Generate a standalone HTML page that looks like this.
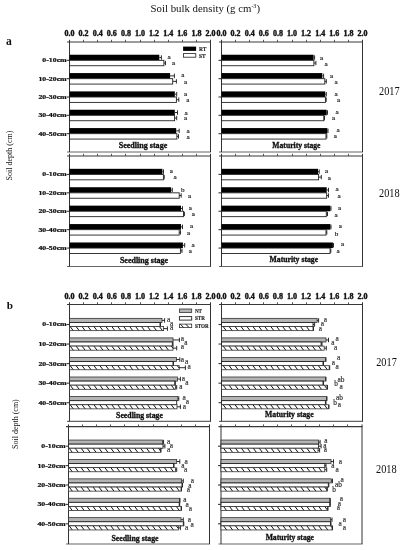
<!DOCTYPE html>
<html><head><meta charset="utf-8"><style>
html,body{margin:0;padding:0;background:#fff;}
svg{display:block;filter:blur(0.3px);}
text{font-family:"Liberation Serif", "Times New Roman", serif;fill:#111;}
.tk{font-size:7.6px;font-weight:bold;text-anchor:middle;stroke:#111;stroke-width:0.35px;}
.cat{font-size:7.1px;font-weight:bold;text-anchor:end;stroke:#111;stroke-width:0.25px;}
.st{font-size:8.4px;font-weight:bold;text-anchor:middle;stroke:#111;stroke-width:0.3px;}
.lt{font-size:7.2px;text-anchor:middle;fill:#222;stroke:#333;stroke-width:0.15px;}
.lta{font-size:6.5px;text-anchor:middle;fill:#222;stroke:#333;stroke-width:0.2px;}
.lg{font-size:5.9px;font-weight:bold;fill:#222;stroke:#222;stroke-width:0.15px;}
.yr{font-size:12px;}
.hx{stroke:#383838;stroke-width:1.1;}
.hx2{stroke:#666;stroke-width:1.1;}
.vx{stroke:#333;stroke-width:1;}
.tx{stroke:#444;stroke-width:0.9;}
.eb{stroke:#222;stroke-width:0.95;}
.bk{fill:#000;}
.wh{fill:#fff;stroke:#222;stroke-width:0.9;}
.gr{fill:#b4b4b4;stroke:#333;stroke-width:0.8;}
.hl{stroke:#111;stroke-width:1;fill:none;}
.ol{fill:none;stroke:#333;stroke-width:0.8;}
</style></head><body>
<svg width="403" height="550" viewBox="0 0 403 550">
<rect width="403" height="550" fill="#fff"/>
<text x="205.3" y="11.9" style="font-size:10.8px;text-anchor:middle">Soil bulk density (g cm<tspan dy="-3.5" style="font-size:6px">-3</tspan><tspan dy="3.5">)</tspan></text>
<text x="6" y="44.8" style="font-size:11.6px;font-weight:bold">a</text>
<text x="6.8" y="309.2" style="font-size:11.2px;font-weight:bold">b</text>
<text transform="translate(12.2,155.5) rotate(-90)" style="font-size:8px;text-anchor:middle">Soil depth (cm)</text>
<text transform="translate(17.6,424.1) rotate(-90)" style="font-size:8px;text-anchor:middle">Soil depth (cm)</text>
<text transform="translate(379,94.7) scale(0.86,1)" class="yr">2017</text>
<text transform="translate(379,197.1) scale(0.86,1)" class="yr">2018</text>
<text transform="translate(376.2,365.6) scale(0.86,1)" class="yr">2017</text>
<text transform="translate(376,472.9) scale(0.86,1)" class="yr">2018</text>

<rect x="183.1" y="46.6" width="13" height="4.3" fill="#000"/>
<text transform="translate(199.1,50.8) scale(0.92,1)" class="lg">RT</text>
<rect x="183.5" y="53.6" width="12.3" height="3.6" fill="#fff" stroke="#222" stroke-width="0.8"/>
<text transform="translate(199.1,57.6) scale(0.92,1)" class="lg">ST</text>


<rect x="179.4" y="309" width="12.3" height="3.5" class="gr"/>
<text transform="translate(194.9,312.8) scale(0.87,1)" class="lg">NT</text>
<rect x="179.4" y="316.6" width="12.3" height="3.5" class="wh"/>
<text transform="translate(194.9,320.4) scale(0.87,1)" class="lg">STR</text>
<rect x="179.4" y="324.1" width="12.3" height="3.5" fill="#fff"/>
<path d="M180.25 324.1L183.75 327.6M185.65 324.1L189.15 327.6M191.05 324.1L191.7 324.75" class="hl"/>
<rect x="179.4" y="324.1" width="12.3" height="3.5" class="ol"/>
<text transform="translate(194.9,327.9) scale(0.87,1)" class="lg">STOR</text>

<line x1="67" y1="42" x2="211" y2="42" class="hx"/>
<line x1="67" y1="152" x2="211" y2="152" class="hx2"/>
<line x1="69.5" y1="39.8" x2="69.5" y2="152" class="vx"/>
<line x1="210.5" y1="39.8" x2="210.5" y2="152" class="vx"/>
<line x1="83.5" y1="42" x2="83.5" y2="39.8" class="tx"/>
<line x1="97.5" y1="42" x2="97.5" y2="39.8" class="tx"/>
<line x1="111.5" y1="42" x2="111.5" y2="39.8" class="tx"/>
<line x1="125.5" y1="42" x2="125.5" y2="39.8" class="tx"/>
<line x1="140.5" y1="42" x2="140.5" y2="39.8" class="tx"/>
<line x1="154.5" y1="42" x2="154.5" y2="39.8" class="tx"/>
<line x1="168.5" y1="42" x2="168.5" y2="39.8" class="tx"/>
<line x1="182.5" y1="42" x2="182.5" y2="39.8" class="tx"/>
<line x1="196.5" y1="42" x2="196.5" y2="39.8" class="tx"/>
<line x1="66.5" y1="60.33" x2="69.5" y2="60.33" class="hx"/>
<text transform="translate(66.6,62.23) scale(1.1,1)" class="cat">0-10cm</text>
<rect x="69.5" y="54.73" width="89.8" height="5.6" class="bk"/>
<line x1="159.3" y1="57.53" x2="161.4" y2="57.53" class="eb"/>
<line x1="161.4" y1="55.29" x2="161.4" y2="59.77" class="eb"/>
<text transform="translate(169.2,59) scale(1.1,1)" class="lta">a</text>
<rect x="69.5" y="60.33" width="94.4" height="5.4" class="wh"/>
<line x1="163.9" y1="63.03" x2="165.5" y2="63.03" class="eb"/>
<line x1="165.5" y1="60.87" x2="165.5" y2="65.19" class="eb"/>
<text transform="translate(173.6,64.9) scale(1.1,1)" class="lta">a</text>
<line x1="66.5" y1="78.67" x2="69.5" y2="78.67" class="hx"/>
<text transform="translate(66.6,80.57) scale(1.1,1)" class="cat">10-20cm</text>
<rect x="69.5" y="73.07" width="100.6" height="5.6" class="bk"/>
<line x1="170.1" y1="75.87" x2="174.4" y2="75.87" class="eb"/>
<line x1="174.4" y1="73.63" x2="174.4" y2="78.11" class="eb"/>
<text transform="translate(182.9,77.4) scale(1.1,1)" class="lta">a</text>
<rect x="69.5" y="78.67" width="103.2" height="5.4" class="wh"/>
<line x1="172.7" y1="81.37" x2="176.4" y2="81.37" class="eb"/>
<line x1="176.4" y1="79.21" x2="176.4" y2="83.53" class="eb"/>
<text transform="translate(185.6,83.5) scale(1.1,1)" class="lta">a</text>
<line x1="66.5" y1="97" x2="69.5" y2="97" class="hx"/>
<text transform="translate(66.6,98.9) scale(1.1,1)" class="cat">20-30cm</text>
<rect x="69.5" y="91.4" width="105.3" height="5.6" class="bk"/>
<line x1="174.8" y1="94.2" x2="176.7" y2="94.2" class="eb"/>
<line x1="176.7" y1="91.96" x2="176.7" y2="96.44" class="eb"/>
<text transform="translate(185.6,95.9) scale(1.1,1)" class="lta">a</text>
<rect x="69.5" y="97" width="106.9" height="5.4" class="wh"/>
<line x1="176.4" y1="99.7" x2="178.8" y2="99.7" class="eb"/>
<line x1="178.8" y1="97.54" x2="178.8" y2="101.86" class="eb"/>
<text transform="translate(187.8,102.1) scale(1.1,1)" class="lta">a</text>
<line x1="66.5" y1="115.33" x2="69.5" y2="115.33" class="hx"/>
<text transform="translate(66.6,117.23) scale(1.1,1)" class="cat">30-40cm</text>
<rect x="69.5" y="109.73" width="105.3" height="5.6" class="bk"/>
<line x1="174.8" y1="112.53" x2="177.5" y2="112.53" class="eb"/>
<line x1="177.5" y1="110.29" x2="177.5" y2="114.77" class="eb"/>
<text transform="translate(186.2,114.9) scale(1.1,1)" class="lta">a</text>
<rect x="69.5" y="115.33" width="105.1" height="5.4" class="wh"/>
<line x1="174.6" y1="118.03" x2="176.7" y2="118.03" class="eb"/>
<line x1="176.7" y1="115.87" x2="176.7" y2="120.19" class="eb"/>
<text transform="translate(185.6,120.1) scale(1.1,1)" class="lta">a</text>
<line x1="66.5" y1="133.67" x2="69.5" y2="133.67" class="hx"/>
<text transform="translate(66.6,135.57) scale(1.1,1)" class="cat">40-50cm</text>
<rect x="69.5" y="128.07" width="106.7" height="5.6" class="bk"/>
<line x1="176.2" y1="130.87" x2="179.2" y2="130.87" class="eb"/>
<line x1="179.2" y1="128.63" x2="179.2" y2="133.11" class="eb"/>
<text transform="translate(188.2,133.1) scale(1.1,1)" class="lta">a</text>
<rect x="69.5" y="133.67" width="107.4" height="5.4" class="wh"/>
<line x1="176.9" y1="136.37" x2="178.5" y2="136.37" class="eb"/>
<line x1="178.5" y1="134.21" x2="178.5" y2="138.53" class="eb"/>
<text transform="translate(188,139) scale(1.1,1)" class="lta">a</text>
<text transform="translate(143,147.9) scale(1.075,1)" class="st" style="font-size:7.5px">Seedling stage</text>
<line x1="219" y1="42" x2="363" y2="42" class="hx"/>
<line x1="219" y1="152" x2="363" y2="152" class="hx2"/>
<line x1="221.5" y1="39.8" x2="221.5" y2="152" class="vx"/>
<line x1="362.5" y1="39.8" x2="362.5" y2="152" class="vx"/>
<line x1="235.5" y1="42" x2="235.5" y2="39.8" class="tx"/>
<line x1="249.5" y1="42" x2="249.5" y2="39.8" class="tx"/>
<line x1="263.5" y1="42" x2="263.5" y2="39.8" class="tx"/>
<line x1="277.5" y1="42" x2="277.5" y2="39.8" class="tx"/>
<line x1="292.5" y1="42" x2="292.5" y2="39.8" class="tx"/>
<line x1="306.5" y1="42" x2="306.5" y2="39.8" class="tx"/>
<line x1="320.5" y1="42" x2="320.5" y2="39.8" class="tx"/>
<line x1="334.5" y1="42" x2="334.5" y2="39.8" class="tx"/>
<line x1="348.5" y1="42" x2="348.5" y2="39.8" class="tx"/>
<line x1="218.5" y1="60.33" x2="221.5" y2="60.33" class="hx"/>
<rect x="221.5" y="54.73" width="92.1" height="5.6" class="bk"/>
<line x1="313.6" y1="57.53" x2="314.6" y2="57.53" class="eb"/>
<line x1="314.6" y1="55.29" x2="314.6" y2="59.77" class="eb"/>
<text transform="translate(321.7,59.6) scale(1.1,1)" class="lta">a</text>
<rect x="221.5" y="60.33" width="92.4" height="5.4" class="wh"/>
<line x1="313.9" y1="63.03" x2="315.9" y2="63.03" class="eb"/>
<line x1="315.9" y1="60.87" x2="315.9" y2="65.19" class="eb"/>
<text transform="translate(326,65.8) scale(1.1,1)" class="lta">a</text>
<line x1="218.5" y1="78.67" x2="221.5" y2="78.67" class="hx"/>
<rect x="221.5" y="73.07" width="100.8" height="5.6" class="bk"/>
<line x1="322.3" y1="75.87" x2="323.6" y2="75.87" class="eb"/>
<line x1="323.6" y1="73.63" x2="323.6" y2="78.11" class="eb"/>
<text transform="translate(331.6,77.6) scale(1.1,1)" class="lta">a</text>
<rect x="221.5" y="78.67" width="103.3" height="5.4" class="wh"/>
<line x1="324.8" y1="81.37" x2="326.3" y2="81.37" class="eb"/>
<line x1="326.3" y1="79.21" x2="326.3" y2="83.53" class="eb"/>
<text transform="translate(336.2,83.8) scale(1.1,1)" class="lta">a</text>
<line x1="218.5" y1="97" x2="221.5" y2="97" class="hx"/>
<rect x="221.5" y="91.4" width="103.7" height="5.6" class="bk"/>
<line x1="325.2" y1="94.2" x2="326.3" y2="94.2" class="eb"/>
<line x1="326.3" y1="91.96" x2="326.3" y2="96.44" class="eb"/>
<text transform="translate(336,95.9) scale(1.1,1)" class="lta">a</text>
<rect x="221.5" y="97" width="103.9" height="5.4" class="wh"/>
<line x1="325.4" y1="99.7" x2="326.2" y2="99.7" class="eb"/>
<line x1="326.2" y1="97.54" x2="326.2" y2="101.86" class="eb"/>
<text transform="translate(338.5,101.5) scale(1.1,1)" class="lta">a</text>
<line x1="218.5" y1="115.33" x2="221.5" y2="115.33" class="hx"/>
<rect x="221.5" y="109.73" width="105.2" height="5.6" class="bk"/>
<line x1="326.7" y1="112.53" x2="327.5" y2="112.53" class="eb"/>
<line x1="327.5" y1="110.29" x2="327.5" y2="114.77" class="eb"/>
<text transform="translate(337,114.1) scale(1.1,1)" class="lta">a</text>
<rect x="221.5" y="115.33" width="102.3" height="5.4" class="wh"/>
<line x1="323.8" y1="118.03" x2="324.5" y2="118.03" class="eb"/>
<line x1="324.5" y1="115.87" x2="324.5" y2="120.19" class="eb"/>
<text transform="translate(333.5,120.1) scale(1.1,1)" class="lta">a</text>
<line x1="218.5" y1="133.67" x2="221.5" y2="133.67" class="hx"/>
<rect x="221.5" y="128.07" width="105.8" height="5.6" class="bk"/>
<line x1="327.3" y1="130.87" x2="328" y2="130.87" class="eb"/>
<line x1="328" y1="128.63" x2="328" y2="133.11" class="eb"/>
<text transform="translate(338.2,132.1) scale(1.1,1)" class="lta">a</text>
<rect x="221.5" y="133.67" width="104.5" height="5.4" class="wh"/>
<line x1="326" y1="136.37" x2="326.8" y2="136.37" class="eb"/>
<line x1="326.8" y1="134.21" x2="326.8" y2="138.53" class="eb"/>
<text transform="translate(335.4,138.3) scale(1.1,1)" class="lta">a</text>
<text transform="translate(296.4,148.4) scale(1.020,1)" class="st" style="font-size:7.5px">Maturity stage</text>
<line x1="67" y1="156" x2="211" y2="156" class="hx"/>
<line x1="67" y1="266.5" x2="211" y2="266.5" class="hx2"/>
<line x1="69.5" y1="153.8" x2="69.5" y2="266.5" class="vx"/>
<line x1="210.5" y1="153.8" x2="210.5" y2="266.5" class="vx"/>
<line x1="83.5" y1="156" x2="83.5" y2="153.8" class="tx"/>
<line x1="97.5" y1="156" x2="97.5" y2="153.8" class="tx"/>
<line x1="111.5" y1="156" x2="111.5" y2="153.8" class="tx"/>
<line x1="125.5" y1="156" x2="125.5" y2="153.8" class="tx"/>
<line x1="140.5" y1="156" x2="140.5" y2="153.8" class="tx"/>
<line x1="154.5" y1="156" x2="154.5" y2="153.8" class="tx"/>
<line x1="168.5" y1="156" x2="168.5" y2="153.8" class="tx"/>
<line x1="182.5" y1="156" x2="182.5" y2="153.8" class="tx"/>
<line x1="196.5" y1="156" x2="196.5" y2="153.8" class="tx"/>
<line x1="66.5" y1="174.42" x2="69.5" y2="174.42" class="hx"/>
<text transform="translate(66.6,176.32) scale(1.1,1)" class="cat">0-10cm</text>
<rect x="69.5" y="168.82" width="92.9" height="5.6" class="bk"/>
<line x1="162.4" y1="171.62" x2="163.5" y2="171.62" class="eb"/>
<line x1="163.5" y1="169.38" x2="163.5" y2="173.86" class="eb"/>
<text transform="translate(171.3,173) scale(1.1,1)" class="lta">a</text>
<rect x="69.5" y="174.42" width="93.9" height="5.4" class="wh"/>
<line x1="163.4" y1="177.12" x2="164.2" y2="177.12" class="eb"/>
<line x1="164.2" y1="174.96" x2="164.2" y2="179.28" class="eb"/>
<text transform="translate(175.2,179) scale(1.1,1)" class="lta">a</text>
<line x1="66.5" y1="192.83" x2="69.5" y2="192.83" class="hx"/>
<text transform="translate(66.6,194.73) scale(1.1,1)" class="cat">10-20cm</text>
<rect x="69.5" y="187.23" width="101.6" height="5.6" class="bk"/>
<line x1="171.1" y1="190.03" x2="172.3" y2="190.03" class="eb"/>
<line x1="172.3" y1="187.79" x2="172.3" y2="192.27" class="eb"/>
<text transform="translate(182.9,191.5) scale(1.1,1)" class="lta">b</text>
<rect x="69.5" y="192.83" width="109.7" height="5.4" class="wh"/>
<line x1="179.2" y1="195.53" x2="181.2" y2="195.53" class="eb"/>
<line x1="181.2" y1="193.37" x2="181.2" y2="197.69" class="eb"/>
<text transform="translate(189.7,197.6) scale(1.1,1)" class="lta">a</text>
<line x1="66.5" y1="211.25" x2="69.5" y2="211.25" class="hx"/>
<text transform="translate(66.6,213.15) scale(1.1,1)" class="cat">20-30cm</text>
<rect x="69.5" y="205.65" width="111.5" height="5.6" class="bk"/>
<line x1="181" y1="208.45" x2="182.5" y2="208.45" class="eb"/>
<line x1="182.5" y1="206.21" x2="182.5" y2="210.69" class="eb"/>
<text transform="translate(190.3,210.3) scale(1.1,1)" class="lta">a</text>
<rect x="69.5" y="211.25" width="114" height="5.4" class="wh"/>
<line x1="183.5" y1="213.95" x2="184.4" y2="213.95" class="eb"/>
<line x1="184.4" y1="211.79" x2="184.4" y2="216.11" class="eb"/>
<text transform="translate(193.4,216.2) scale(1.1,1)" class="lta">a</text>
<line x1="66.5" y1="229.67" x2="69.5" y2="229.67" class="hx"/>
<text transform="translate(66.6,231.57) scale(1.1,1)" class="cat">30-40cm</text>
<rect x="69.5" y="224.07" width="111.5" height="5.6" class="bk"/>
<line x1="181" y1="226.87" x2="182.5" y2="226.87" class="eb"/>
<line x1="182.5" y1="224.63" x2="182.5" y2="229.11" class="eb"/>
<text transform="translate(191.6,228.3) scale(1.1,1)" class="lta">a</text>
<rect x="69.5" y="229.67" width="109.7" height="5.4" class="wh"/>
<line x1="179.2" y1="232.37" x2="180.5" y2="232.37" class="eb"/>
<line x1="180.5" y1="230.21" x2="180.5" y2="234.53" class="eb"/>
<text transform="translate(188.5,235.1) scale(1.1,1)" class="lta">a</text>
<line x1="66.5" y1="248.08" x2="69.5" y2="248.08" class="hx"/>
<text transform="translate(66.6,249.98) scale(1.1,1)" class="cat">40-50cm</text>
<rect x="69.5" y="242.48" width="113.4" height="5.6" class="bk"/>
<line x1="182.9" y1="245.28" x2="184.7" y2="245.28" class="eb"/>
<line x1="184.7" y1="243.04" x2="184.7" y2="247.52" class="eb"/>
<text transform="translate(193.2,247.1) scale(1.1,1)" class="lta">a</text>
<rect x="69.5" y="248.08" width="110.9" height="5.4" class="wh"/>
<line x1="180.4" y1="250.78" x2="182" y2="250.78" class="eb"/>
<line x1="182" y1="248.62" x2="182" y2="252.94" class="eb"/>
<text transform="translate(190.3,252.7) scale(1.1,1)" class="lta">a</text>
<text transform="translate(144,262.8) scale(1.068,1)" class="st" style="font-size:7.5px">Seedling stage</text>
<line x1="219" y1="156" x2="363" y2="156" class="hx"/>
<line x1="219" y1="266.5" x2="363" y2="266.5" class="hx2"/>
<line x1="221.5" y1="153.8" x2="221.5" y2="266.5" class="vx"/>
<line x1="362.5" y1="153.8" x2="362.5" y2="266.5" class="vx"/>
<line x1="235.5" y1="156" x2="235.5" y2="153.8" class="tx"/>
<line x1="249.5" y1="156" x2="249.5" y2="153.8" class="tx"/>
<line x1="263.5" y1="156" x2="263.5" y2="153.8" class="tx"/>
<line x1="277.5" y1="156" x2="277.5" y2="153.8" class="tx"/>
<line x1="292.5" y1="156" x2="292.5" y2="153.8" class="tx"/>
<line x1="306.5" y1="156" x2="306.5" y2="153.8" class="tx"/>
<line x1="320.5" y1="156" x2="320.5" y2="153.8" class="tx"/>
<line x1="334.5" y1="156" x2="334.5" y2="153.8" class="tx"/>
<line x1="348.5" y1="156" x2="348.5" y2="153.8" class="tx"/>
<line x1="218.5" y1="174.42" x2="221.5" y2="174.42" class="hx"/>
<rect x="221.5" y="168.82" width="96.5" height="5.6" class="bk"/>
<line x1="318" y1="171.62" x2="319.2" y2="171.62" class="eb"/>
<line x1="319.2" y1="169.38" x2="319.2" y2="173.86" class="eb"/>
<text transform="translate(326.7,173.4) scale(1.1,1)" class="lta">a</text>
<rect x="221.5" y="174.42" width="97.1" height="5.4" class="wh"/>
<line x1="318.6" y1="177.12" x2="321.3" y2="177.12" class="eb"/>
<line x1="321.3" y1="174.96" x2="321.3" y2="179.28" class="eb"/>
<text transform="translate(329.4,179.6) scale(1.1,1)" class="lta">a</text>
<line x1="218.5" y1="192.83" x2="221.5" y2="192.83" class="hx"/>
<rect x="221.5" y="187.23" width="105.2" height="5.6" class="bk"/>
<line x1="326.7" y1="190.03" x2="328.5" y2="190.03" class="eb"/>
<line x1="328.5" y1="187.79" x2="328.5" y2="192.27" class="eb"/>
<text transform="translate(337,191.4) scale(1.1,1)" class="lta">a</text>
<rect x="221.5" y="192.83" width="105.2" height="5.4" class="wh"/>
<line x1="326.7" y1="195.53" x2="328.5" y2="195.53" class="eb"/>
<line x1="328.5" y1="193.37" x2="328.5" y2="197.69" class="eb"/>
<text transform="translate(339.1,197.6) scale(1.1,1)" class="lta">a</text>
<line x1="218.5" y1="211.25" x2="221.5" y2="211.25" class="hx"/>
<rect x="221.5" y="205.65" width="108.9" height="5.6" class="bk"/>
<line x1="330.4" y1="208.45" x2="331" y2="208.45" class="eb"/>
<line x1="331" y1="206.21" x2="331" y2="210.69" class="eb"/>
<text transform="translate(339.5,209.6) scale(1.1,1)" class="lta">a</text>
<rect x="221.5" y="211.25" width="104.8" height="5.4" class="wh"/>
<line x1="326.3" y1="213.95" x2="327.5" y2="213.95" class="eb"/>
<line x1="327.5" y1="211.79" x2="327.5" y2="216.11" class="eb"/>
<text transform="translate(336,216.5) scale(1.1,1)" class="lta">a</text>
<line x1="218.5" y1="229.67" x2="221.5" y2="229.67" class="hx"/>
<rect x="221.5" y="224.07" width="108.9" height="5.6" class="bk"/>
<line x1="330.4" y1="226.87" x2="331" y2="226.87" class="eb"/>
<line x1="331" y1="224.63" x2="331" y2="229.11" class="eb"/>
<text transform="translate(340.3,227.9) scale(1.1,1)" class="lta">a</text>
<rect x="221.5" y="229.67" width="104.5" height="5.4" class="wh"/>
<line x1="326" y1="232.37" x2="326.8" y2="232.37" class="eb"/>
<line x1="326.8" y1="230.21" x2="326.8" y2="234.53" class="eb"/>
<text transform="translate(336.6,235.5) scale(1.1,1)" class="lta">b</text>
<line x1="218.5" y1="248.08" x2="221.5" y2="248.08" class="hx"/>
<rect x="221.5" y="242.48" width="111.4" height="5.6" class="bk"/>
<line x1="332.9" y1="245.28" x2="333.5" y2="245.28" class="eb"/>
<line x1="333.5" y1="243.04" x2="333.5" y2="247.52" class="eb"/>
<text transform="translate(342.6,245.9) scale(1.1,1)" class="lta">a</text>
<rect x="221.5" y="248.08" width="108.6" height="5.4" class="wh"/>
<line x1="330.1" y1="250.78" x2="330.8" y2="250.78" class="eb"/>
<line x1="330.8" y1="248.62" x2="330.8" y2="252.94" class="eb"/>
<text transform="translate(338.2,252.5) scale(1.1,1)" class="lta">a</text>
<text transform="translate(293.8,262.3) scale(1.029,1)" class="st" style="font-size:7.5px">Maturity stage</text>
<line x1="67" y1="304.5" x2="211" y2="304.5" class="hx"/>
<line x1="67" y1="421.4" x2="211" y2="421.4" class="hx2"/>
<line x1="69.5" y1="302.3" x2="69.5" y2="421.4" class="vx"/>
<line x1="210.5" y1="302.3" x2="210.5" y2="421.4" class="vx"/>
<line x1="83.5" y1="304.5" x2="83.5" y2="302.3" class="tx"/>
<line x1="97.5" y1="304.5" x2="97.5" y2="302.3" class="tx"/>
<line x1="111.5" y1="304.5" x2="111.5" y2="302.3" class="tx"/>
<line x1="125.5" y1="304.5" x2="125.5" y2="302.3" class="tx"/>
<line x1="140.5" y1="304.5" x2="140.5" y2="302.3" class="tx"/>
<line x1="154.5" y1="304.5" x2="154.5" y2="302.3" class="tx"/>
<line x1="168.5" y1="304.5" x2="168.5" y2="302.3" class="tx"/>
<line x1="182.5" y1="304.5" x2="182.5" y2="302.3" class="tx"/>
<line x1="196.5" y1="304.5" x2="196.5" y2="302.3" class="tx"/>
<line x1="66.5" y1="324.5" x2="69.5" y2="324.5" class="hx"/>
<text transform="translate(66.6,326.4) scale(1.1,1)" class="cat">0-10cm</text>
<rect x="69.5" y="318.35" width="92.5" height="4.1" class="gr"/>
<line x1="162" y1="320.4" x2="164.6" y2="320.4" class="eb"/>
<line x1="164.6" y1="318.14" x2="164.6" y2="322.65" class="eb"/>
<text transform="translate(168.6,321.8) scale(1.02,1)" class="lt">a</text>
<rect x="69.5" y="322.45" width="90.5" height="4.1" class="wh"/>
<line x1="160" y1="324.5" x2="160.5" y2="324.5" class="eb"/>
<line x1="160.5" y1="322.25" x2="160.5" y2="326.75" class="eb"/>
<text transform="translate(171.7,325.5) scale(1.02,1)" class="lt">a</text>
<rect x="69.5" y="326.55" width="94.1" height="4.1" fill="#fff"/>
<path d="M70.16 326.55L73.24 330.65M76.11 326.55L79.19 330.65M82.06 326.55L85.14 330.65M88.01 326.55L91.09 330.65M93.96 326.55L97.04 330.65M99.91 326.55L102.99 330.65M105.86 326.55L108.94 330.65M111.81 326.55L114.89 330.65M117.76 326.55L120.84 330.65M123.71 326.55L126.79 330.65M129.66 326.55L132.74 330.65M135.61 326.55L138.69 330.65M141.56 326.55L144.64 330.65M147.51 326.55L150.59 330.65M153.46 326.55L156.54 330.65M159.41 326.55L162.49 330.65" class="hl"/>
<rect x="69.5" y="326.55" width="94.1" height="4.1" class="ol"/>
<line x1="163.6" y1="328.6" x2="167.4" y2="328.6" class="eb"/>
<line x1="167.4" y1="326.35" x2="167.4" y2="330.86" class="eb"/>
<text transform="translate(171.7,330.2) scale(1.02,1)" class="lt">a</text>
<line x1="66.5" y1="344.05" x2="69.5" y2="344.05" class="hx"/>
<text transform="translate(66.6,345.95) scale(1.1,1)" class="cat">10-20cm</text>
<rect x="69.5" y="337.9" width="103.5" height="4.1" class="gr"/>
<line x1="173" y1="339.95" x2="179.4" y2="339.95" class="eb"/>
<line x1="179.4" y1="337.7" x2="179.4" y2="342.21" class="eb"/>
<text transform="translate(182.5,341) scale(1.02,1)" class="lt">a</text>
<rect x="69.5" y="342" width="102.8" height="4.1" class="wh"/>
<line x1="172.3" y1="344.05" x2="173" y2="344.05" class="eb"/>
<line x1="173" y1="341.8" x2="173" y2="346.31" class="eb"/>
<text transform="translate(186,345.1) scale(1.02,1)" class="lt">a</text>
<rect x="69.5" y="346.1" width="103.5" height="4.1" fill="#fff"/>
<path d="M70.16 346.1L73.24 350.2M76.11 346.1L79.19 350.2M82.06 346.1L85.14 350.2M88.01 346.1L91.09 350.2M93.96 346.1L97.04 350.2M99.91 346.1L102.99 350.2M105.86 346.1L108.94 350.2M111.81 346.1L114.89 350.2M117.76 346.1L120.84 350.2M123.71 346.1L126.79 350.2M129.66 346.1L132.74 350.2M135.61 346.1L138.69 350.2M141.56 346.1L144.64 350.2M147.51 346.1L150.59 350.2M153.46 346.1L156.54 350.2M159.41 346.1L162.49 350.2M165.36 346.1L168.44 350.2M171.31 346.1L173 348.35" class="hl"/>
<rect x="69.5" y="346.1" width="103.5" height="4.1" class="ol"/>
<line x1="173" y1="348.15" x2="176.7" y2="348.15" class="eb"/>
<line x1="176.7" y1="345.89" x2="176.7" y2="350.4" class="eb"/>
<text transform="translate(182.5,349.4) scale(1.02,1)" class="lt">a</text>
<line x1="66.5" y1="363.6" x2="69.5" y2="363.6" class="hx"/>
<text transform="translate(66.6,365.5) scale(1.1,1)" class="cat">20-30cm</text>
<rect x="69.5" y="357.45" width="106.9" height="4.1" class="gr"/>
<line x1="176.4" y1="359.5" x2="179.8" y2="359.5" class="eb"/>
<line x1="179.8" y1="357.25" x2="179.8" y2="361.75" class="eb"/>
<text transform="translate(182.5,361.8) scale(1.02,1)" class="lt">a</text>
<rect x="69.5" y="361.55" width="103.5" height="4.1" class="wh"/>
<line x1="173" y1="363.6" x2="173.5" y2="363.6" class="eb"/>
<line x1="173.5" y1="361.35" x2="173.5" y2="365.86" class="eb"/>
<text transform="translate(186.6,363.6) scale(1.02,1)" class="lt">a</text>
<rect x="69.5" y="365.65" width="109.7" height="4.1" fill="#fff"/>
<path d="M70.16 365.65L73.24 369.75M76.11 365.65L79.19 369.75M82.06 365.65L85.14 369.75M88.01 365.65L91.09 369.75M93.96 365.65L97.04 369.75M99.91 365.65L102.99 369.75M105.86 365.65L108.94 369.75M111.81 365.65L114.89 369.75M117.76 365.65L120.84 369.75M123.71 365.65L126.79 369.75M129.66 365.65L132.74 369.75M135.61 365.65L138.69 369.75M141.56 365.65L144.64 369.75M147.51 365.65L150.59 369.75M153.46 365.65L156.54 369.75M159.41 365.65L162.49 369.75M165.36 365.65L168.44 369.75M171.31 365.65L174.39 369.75M177.26 365.65L179.2 368.23" class="hl"/>
<rect x="69.5" y="365.65" width="109.7" height="4.1" class="ol"/>
<line x1="179.2" y1="367.7" x2="185.4" y2="367.7" class="eb"/>
<line x1="185.4" y1="365.45" x2="185.4" y2="369.96" class="eb"/>
<text transform="translate(189.1,369) scale(1.02,1)" class="lt">a</text>
<line x1="66.5" y1="383.15" x2="69.5" y2="383.15" class="hx"/>
<text transform="translate(66.6,385.05) scale(1.1,1)" class="cat">30-40cm</text>
<rect x="69.5" y="377" width="108" height="4.1" class="gr"/>
<line x1="177.5" y1="379.05" x2="180.4" y2="379.05" class="eb"/>
<line x1="180.4" y1="376.79" x2="180.4" y2="381.3" class="eb"/>
<text transform="translate(183.3,381) scale(1.02,1)" class="lt">a</text>
<rect x="69.5" y="381.1" width="105.3" height="4.1" class="wh"/>
<line x1="174.8" y1="383.15" x2="175.3" y2="383.15" class="eb"/>
<line x1="175.3" y1="380.89" x2="175.3" y2="385.4" class="eb"/>
<text transform="translate(187,384.9) scale(1.02,1)" class="lt">a</text>
<rect x="69.5" y="385.2" width="105.9" height="4.1" fill="#fff"/>
<path d="M70.16 385.2L73.24 389.3M76.11 385.2L79.19 389.3M82.06 385.2L85.14 389.3M88.01 385.2L91.09 389.3M93.96 385.2L97.04 389.3M99.91 385.2L102.99 389.3M105.86 385.2L108.94 389.3M111.81 385.2L114.89 389.3M117.76 385.2L120.84 389.3M123.71 385.2L126.79 389.3M129.66 385.2L132.74 389.3M135.61 385.2L138.69 389.3M141.56 385.2L144.64 389.3M147.51 385.2L150.59 389.3M153.46 385.2L156.54 389.3M159.41 385.2L162.49 389.3M165.36 385.2L168.44 389.3M171.31 385.2L174.39 389.3" class="hl"/>
<rect x="69.5" y="385.2" width="105.9" height="4.1" class="ol"/>
<line x1="175.4" y1="387.25" x2="176.7" y2="387.25" class="eb"/>
<line x1="176.7" y1="385" x2="176.7" y2="389.5" class="eb"/>
<text transform="translate(180.8,388.6) scale(1.02,1)" class="lt">a</text>
<line x1="66.5" y1="402.7" x2="69.5" y2="402.7" class="hx"/>
<text transform="translate(66.6,404.6) scale(1.1,1)" class="cat">40-50cm</text>
<rect x="69.5" y="396.55" width="108.4" height="4.1" class="gr"/>
<line x1="177.9" y1="398.6" x2="178.8" y2="398.6" class="eb"/>
<line x1="178.8" y1="396.35" x2="178.8" y2="400.86" class="eb"/>
<text transform="translate(184.1,399.6) scale(1.02,1)" class="lt">a</text>
<rect x="69.5" y="400.65" width="107.2" height="4.1" class="wh"/>
<text transform="translate(187.5,404) scale(1.02,1)" class="lt">a</text>
<rect x="69.5" y="404.75" width="107.5" height="4.1" fill="#fff"/>
<path d="M70.16 404.75L73.24 408.85M76.11 404.75L79.19 408.85M82.06 404.75L85.14 408.85M88.01 404.75L91.09 408.85M93.96 404.75L97.04 408.85M99.91 404.75L102.99 408.85M105.86 404.75L108.94 408.85M111.81 404.75L114.89 408.85M117.76 404.75L120.84 408.85M123.71 404.75L126.79 408.85M129.66 404.75L132.74 408.85M135.61 404.75L138.69 408.85M141.56 404.75L144.64 408.85M147.51 404.75L150.59 408.85M153.46 404.75L156.54 408.85M159.41 404.75L162.49 408.85M165.36 404.75L168.44 408.85M171.31 404.75L174.39 408.85" class="hl"/>
<rect x="69.5" y="404.75" width="107.5" height="4.1" class="ol"/>
<line x1="177" y1="406.8" x2="180.4" y2="406.8" class="eb"/>
<line x1="180.4" y1="404.54" x2="180.4" y2="409.05" class="eb"/>
<text transform="translate(184.5,408.7) scale(1.02,1)" class="lt">a</text>
<text transform="translate(139.5,417.8) scale(1.037,1)" class="st" style="font-size:7.5px">Seedling stage</text>
<line x1="219" y1="304.5" x2="363" y2="304.5" class="hx"/>
<line x1="219" y1="421.4" x2="363" y2="421.4" class="hx2"/>
<line x1="221.5" y1="302.3" x2="221.5" y2="421.4" class="vx"/>
<line x1="362.5" y1="302.3" x2="362.5" y2="421.4" class="vx"/>
<line x1="235.5" y1="304.5" x2="235.5" y2="302.3" class="tx"/>
<line x1="249.5" y1="304.5" x2="249.5" y2="302.3" class="tx"/>
<line x1="263.5" y1="304.5" x2="263.5" y2="302.3" class="tx"/>
<line x1="277.5" y1="304.5" x2="277.5" y2="302.3" class="tx"/>
<line x1="292.5" y1="304.5" x2="292.5" y2="302.3" class="tx"/>
<line x1="306.5" y1="304.5" x2="306.5" y2="302.3" class="tx"/>
<line x1="320.5" y1="304.5" x2="320.5" y2="302.3" class="tx"/>
<line x1="334.5" y1="304.5" x2="334.5" y2="302.3" class="tx"/>
<line x1="348.5" y1="304.5" x2="348.5" y2="302.3" class="tx"/>
<line x1="218.5" y1="324.5" x2="221.5" y2="324.5" class="hx"/>
<rect x="221.5" y="318.35" width="95.6" height="4.1" class="gr"/>
<line x1="317.1" y1="320.4" x2="318.6" y2="320.4" class="eb"/>
<line x1="318.6" y1="318.14" x2="318.6" y2="322.65" class="eb"/>
<text transform="translate(325.4,322.1) scale(1.02,1)" class="lt">a</text>
<rect x="221.5" y="322.45" width="91.5" height="4.1" class="wh"/>
<line x1="313" y1="324.5" x2="314.6" y2="324.5" class="eb"/>
<line x1="314.6" y1="322.25" x2="314.6" y2="326.75" class="eb"/>
<text transform="translate(322.3,326.2) scale(1.02,1)" class="lt">a</text>
<rect x="221.5" y="326.55" width="91.5" height="4.1" fill="#fff"/>
<path d="M223.16 326.55L226.24 330.65M229.11 326.55L232.19 330.65M235.06 326.55L238.14 330.65M241.01 326.55L244.09 330.65M246.96 326.55L250.04 330.65M252.91 326.55L255.99 330.65M258.86 326.55L261.94 330.65M264.81 326.55L267.89 330.65M270.76 326.55L273.84 330.65M276.71 326.55L279.79 330.65M282.66 326.55L285.74 330.65M288.61 326.55L291.69 330.65M294.56 326.55L297.64 330.65M300.51 326.55L303.59 330.65M306.46 326.55L309.54 330.65M312.41 326.55L313 327.33" class="hl"/>
<rect x="221.5" y="326.55" width="91.5" height="4.1" class="ol"/>
<line x1="313" y1="328.6" x2="313.5" y2="328.6" class="eb"/>
<line x1="313.5" y1="326.35" x2="313.5" y2="330.86" class="eb"/>
<text transform="translate(320.5,330.8) scale(1.02,1)" class="lt">a</text>
<line x1="218.5" y1="344.05" x2="221.5" y2="344.05" class="hx"/>
<rect x="221.5" y="337.9" width="104.5" height="4.1" class="gr"/>
<line x1="326" y1="339.95" x2="328.5" y2="339.95" class="eb"/>
<line x1="328.5" y1="337.7" x2="328.5" y2="342.21" class="eb"/>
<text transform="translate(337.2,341.1) scale(1.02,1)" class="lt">a</text>
<rect x="221.5" y="342" width="99.6" height="4.1" class="wh"/>
<line x1="321.1" y1="344.05" x2="322" y2="344.05" class="eb"/>
<line x1="322" y1="341.8" x2="322" y2="346.31" class="eb"/>
<text transform="translate(332.9,345.1) scale(1.02,1)" class="lt">a</text>
<rect x="221.5" y="346.1" width="102.7" height="4.1" fill="#fff"/>
<path d="M223.16 346.1L226.24 350.2M229.11 346.1L232.19 350.2M235.06 346.1L238.14 350.2M241.01 346.1L244.09 350.2M246.96 346.1L250.04 350.2M252.91 346.1L255.99 350.2M258.86 346.1L261.94 350.2M264.81 346.1L267.89 350.2M270.76 346.1L273.84 350.2M276.71 346.1L279.79 350.2M282.66 346.1L285.74 350.2M288.61 346.1L291.69 350.2M294.56 346.1L297.64 350.2M300.51 346.1L303.59 350.2M306.46 346.1L309.54 350.2M312.41 346.1L315.49 350.2M318.36 346.1L321.44 350.2" class="hl"/>
<rect x="221.5" y="346.1" width="102.7" height="4.1" class="ol"/>
<line x1="324.2" y1="348.15" x2="326.3" y2="348.15" class="eb"/>
<line x1="326.3" y1="345.89" x2="326.3" y2="350.4" class="eb"/>
<text transform="translate(335.7,350.1) scale(1.02,1)" class="lt">a</text>
<line x1="218.5" y1="363.6" x2="221.5" y2="363.6" class="hx"/>
<rect x="221.5" y="357.45" width="103.9" height="4.1" class="gr"/>
<line x1="325.4" y1="359.5" x2="326" y2="359.5" class="eb"/>
<line x1="326" y1="357.25" x2="326" y2="361.75" class="eb"/>
<text transform="translate(338.7,360) scale(1.02,1)" class="lt">a</text>
<rect x="221.5" y="361.55" width="101.5" height="4.1" class="wh"/>
<line x1="323" y1="363.6" x2="323.5" y2="363.6" class="eb"/>
<line x1="323.5" y1="361.35" x2="323.5" y2="365.86" class="eb"/>
<text transform="translate(333.5,364.6) scale(1.02,1)" class="lt">a</text>
<rect x="221.5" y="365.65" width="107.7" height="4.1" fill="#fff"/>
<path d="M223.16 365.65L226.24 369.75M229.11 365.65L232.19 369.75M235.06 365.65L238.14 369.75M241.01 365.65L244.09 369.75M246.96 365.65L250.04 369.75M252.91 365.65L255.99 369.75M258.86 365.65L261.94 369.75M264.81 365.65L267.89 369.75M270.76 365.65L273.84 369.75M276.71 365.65L279.79 369.75M282.66 365.65L285.74 369.75M288.61 365.65L291.69 369.75M294.56 365.65L297.64 369.75M300.51 365.65L303.59 369.75M306.46 365.65L309.54 369.75M312.41 365.65L315.49 369.75M318.36 365.65L321.44 369.75M324.31 365.65L327.39 369.75" class="hl"/>
<rect x="221.5" y="365.65" width="107.7" height="4.1" class="ol"/>
<line x1="329.2" y1="367.7" x2="329.7" y2="367.7" class="eb"/>
<line x1="329.7" y1="365.45" x2="329.7" y2="369.96" class="eb"/>
<text transform="translate(337.2,369) scale(1.02,1)" class="lt">a</text>
<line x1="218.5" y1="383.15" x2="221.5" y2="383.15" class="hx"/>
<rect x="221.5" y="377" width="103.9" height="4.1" class="gr"/>
<line x1="325.4" y1="379.05" x2="326" y2="379.05" class="eb"/>
<line x1="326" y1="376.79" x2="326" y2="381.3" class="eb"/>
<text transform="translate(341,382) scale(1.02,1)" class="lt">ab</text>
<rect x="221.5" y="381.1" width="101.5" height="4.1" class="wh"/>
<line x1="323" y1="383.15" x2="323.5" y2="383.15" class="eb"/>
<line x1="323.5" y1="380.89" x2="323.5" y2="385.4" class="eb"/>
<text transform="translate(336,385.5) scale(1.02,1)" class="lt">b</text>
<rect x="221.5" y="385.2" width="105.5" height="4.1" fill="#fff"/>
<path d="M223.16 385.2L226.24 389.3M229.11 385.2L232.19 389.3M235.06 385.2L238.14 389.3M241.01 385.2L244.09 389.3M246.96 385.2L250.04 389.3M252.91 385.2L255.99 389.3M258.86 385.2L261.94 389.3M264.81 385.2L267.89 389.3M270.76 385.2L273.84 389.3M276.71 385.2L279.79 389.3M282.66 385.2L285.74 389.3M288.61 385.2L291.69 389.3M294.56 385.2L297.64 389.3M300.51 385.2L303.59 389.3M306.46 385.2L309.54 389.3M312.41 385.2L315.49 389.3M318.36 385.2L321.44 389.3M324.31 385.2L327 388.78" class="hl"/>
<rect x="221.5" y="385.2" width="105.5" height="4.1" class="ol"/>
<line x1="327" y1="387.25" x2="327.5" y2="387.25" class="eb"/>
<line x1="327.5" y1="385" x2="327.5" y2="389.5" class="eb"/>
<text transform="translate(341.2,389.1) scale(1.02,1)" class="lt">a</text>
<line x1="218.5" y1="402.7" x2="221.5" y2="402.7" class="hx"/>
<rect x="221.5" y="396.55" width="104.9" height="4.1" class="gr"/>
<line x1="326.4" y1="398.6" x2="327" y2="398.6" class="eb"/>
<line x1="327" y1="396.35" x2="327" y2="400.86" class="eb"/>
<text transform="translate(339.5,399.6) scale(1.02,1)" class="lt">ab</text>
<rect x="221.5" y="400.65" width="103.9" height="4.1" class="wh"/>
<line x1="325.4" y1="402.7" x2="326" y2="402.7" class="eb"/>
<line x1="326" y1="400.44" x2="326" y2="404.95" class="eb"/>
<text transform="translate(335.1,404.6) scale(1.02,1)" class="lt">b</text>
<rect x="221.5" y="404.75" width="107" height="4.1" fill="#fff"/>
<path d="M223.16 404.75L226.24 408.85M229.11 404.75L232.19 408.85M235.06 404.75L238.14 408.85M241.01 404.75L244.09 408.85M246.96 404.75L250.04 408.85M252.91 404.75L255.99 408.85M258.86 404.75L261.94 408.85M264.81 404.75L267.89 408.85M270.76 404.75L273.84 408.85M276.71 404.75L279.79 408.85M282.66 404.75L285.74 408.85M288.61 404.75L291.69 408.85M294.56 404.75L297.64 408.85M300.51 404.75L303.59 408.85M306.46 404.75L309.54 408.85M312.41 404.75L315.49 408.85M318.36 404.75L321.44 408.85M324.31 404.75L327.39 408.85" class="hl"/>
<rect x="221.5" y="404.75" width="107" height="4.1" class="ol"/>
<line x1="328.5" y1="406.8" x2="329" y2="406.8" class="eb"/>
<line x1="329" y1="404.54" x2="329" y2="409.05" class="eb"/>
<text transform="translate(339.5,406.5) scale(1.02,1)" class="lt">a</text>
<text transform="translate(289.3,416.9) scale(1.029,1)" class="st" style="font-size:7.5px">Maturity stage</text>
<line x1="66" y1="426.6" x2="210" y2="426.6" class="hx"/>
<line x1="66" y1="544" x2="210" y2="544" class="hx2"/>
<line x1="68.5" y1="424.4" x2="68.5" y2="544" class="vx"/>
<line x1="209.5" y1="424.4" x2="209.5" y2="544" class="vx"/>
<line x1="82.5" y1="426.6" x2="82.5" y2="424.4" class="tx"/>
<line x1="96.5" y1="426.6" x2="96.5" y2="424.4" class="tx"/>
<line x1="110.5" y1="426.6" x2="110.5" y2="424.4" class="tx"/>
<line x1="124.5" y1="426.6" x2="124.5" y2="424.4" class="tx"/>
<line x1="138.5" y1="426.6" x2="138.5" y2="424.4" class="tx"/>
<line x1="153.5" y1="426.6" x2="153.5" y2="424.4" class="tx"/>
<line x1="167.5" y1="426.6" x2="167.5" y2="424.4" class="tx"/>
<line x1="181.5" y1="426.6" x2="181.5" y2="424.4" class="tx"/>
<line x1="195.5" y1="426.6" x2="195.5" y2="424.4" class="tx"/>
<line x1="65.5" y1="446.2" x2="68.5" y2="446.2" class="hx"/>
<text transform="translate(65.6,448.1) scale(1.1,1)" class="cat">0-10cm</text>
<rect x="68.5" y="440.05" width="93.9" height="4.1" class="gr"/>
<line x1="162.4" y1="442.1" x2="163.6" y2="442.1" class="eb"/>
<line x1="163.6" y1="439.85" x2="163.6" y2="444.36" class="eb"/>
<text transform="translate(168.6,444) scale(1.02,1)" class="lt">a</text>
<rect x="68.5" y="444.15" width="94.5" height="4.1" class="wh"/>
<line x1="163" y1="446.2" x2="164.9" y2="446.2" class="eb"/>
<line x1="164.9" y1="443.94" x2="164.9" y2="448.45" class="eb"/>
<text transform="translate(171.3,447.7) scale(1.02,1)" class="lt">a</text>
<rect x="68.5" y="448.25" width="92" height="4.1" fill="#fff"/>
<path d="M69.21 448.25L72.29 452.35M75.16 448.25L78.24 452.35M81.11 448.25L84.19 452.35M87.06 448.25L90.14 452.35M93.01 448.25L96.09 452.35M98.96 448.25L102.04 452.35M104.91 448.25L107.99 452.35M110.86 448.25L113.94 452.35M116.81 448.25L119.89 452.35M122.76 448.25L125.84 452.35M128.71 448.25L131.79 452.35M134.66 448.25L137.74 452.35M140.61 448.25L143.69 452.35M146.56 448.25L149.64 452.35M152.51 448.25L155.59 452.35M158.46 448.25L160.5 450.97" class="hl"/>
<rect x="68.5" y="448.25" width="92" height="4.1" class="ol"/>
<line x1="160.5" y1="450.3" x2="161" y2="450.3" class="eb"/>
<line x1="161" y1="448.04" x2="161" y2="452.55" class="eb"/>
<text transform="translate(168.6,452.4) scale(1.02,1)" class="lt">a</text>
<line x1="65.5" y1="465.6" x2="68.5" y2="465.6" class="hx"/>
<text transform="translate(65.6,467.5) scale(1.1,1)" class="cat">10-20cm</text>
<rect x="68.5" y="459.45" width="108.2" height="4.1" class="gr"/>
<line x1="176.7" y1="461.5" x2="179.8" y2="461.5" class="eb"/>
<line x1="179.8" y1="459.25" x2="179.8" y2="463.75" class="eb"/>
<text transform="translate(186.2,463.6) scale(1.02,1)" class="lt">a</text>
<rect x="68.5" y="463.55" width="105.1" height="4.1" class="wh"/>
<line x1="173.6" y1="465.6" x2="174" y2="465.6" class="eb"/>
<line x1="174" y1="463.34" x2="174" y2="467.85" class="eb"/>
<text transform="translate(182.9,467.6) scale(1.02,1)" class="lt">a</text>
<rect x="68.5" y="467.65" width="106.9" height="4.1" fill="#fff"/>
<path d="M69.21 467.65L72.29 471.75M75.16 467.65L78.24 471.75M81.11 467.65L84.19 471.75M87.06 467.65L90.14 471.75M93.01 467.65L96.09 471.75M98.96 467.65L102.04 471.75M104.91 467.65L107.99 471.75M110.86 467.65L113.94 471.75M116.81 467.65L119.89 471.75M122.76 467.65L125.84 471.75M128.71 467.65L131.79 471.75M134.66 467.65L137.74 471.75M140.61 467.65L143.69 471.75M146.56 467.65L149.64 471.75M152.51 467.65L155.59 471.75M158.46 467.65L161.54 471.75M164.41 467.65L167.49 471.75M170.36 467.65L173.44 471.75" class="hl"/>
<rect x="68.5" y="467.65" width="106.9" height="4.1" class="ol"/>
<line x1="175.4" y1="469.7" x2="176.7" y2="469.7" class="eb"/>
<line x1="176.7" y1="467.44" x2="176.7" y2="471.95" class="eb"/>
<text transform="translate(185.7,472.3) scale(1.02,1)" class="lt">a</text>
<line x1="65.5" y1="485" x2="68.5" y2="485" class="hx"/>
<text transform="translate(65.6,486.9) scale(1.1,1)" class="cat">20-30cm</text>
<rect x="68.5" y="478.85" width="113.1" height="4.1" class="gr"/>
<line x1="181.6" y1="480.9" x2="183.3" y2="480.9" class="eb"/>
<line x1="183.3" y1="478.64" x2="183.3" y2="483.15" class="eb"/>
<text transform="translate(192.4,483.4) scale(1.02,1)" class="lt">a</text>
<rect x="68.5" y="482.95" width="113.5" height="4.1" class="wh"/>
<line x1="182" y1="485" x2="182.5" y2="485" class="eb"/>
<line x1="182.5" y1="482.75" x2="182.5" y2="487.25" class="eb"/>
<text transform="translate(190,487.5) scale(1.02,1)" class="lt">a</text>
<rect x="68.5" y="487.05" width="112.5" height="4.1" fill="#fff"/>
<path d="M69.21 487.05L72.29 491.15M75.16 487.05L78.24 491.15M81.11 487.05L84.19 491.15M87.06 487.05L90.14 491.15M93.01 487.05L96.09 491.15M98.96 487.05L102.04 491.15M104.91 487.05L107.99 491.15M110.86 487.05L113.94 491.15M116.81 487.05L119.89 491.15M122.76 487.05L125.84 491.15M128.71 487.05L131.79 491.15M134.66 487.05L137.74 491.15M140.61 487.05L143.69 491.15M146.56 487.05L149.64 491.15M152.51 487.05L155.59 491.15M158.46 487.05L161.54 491.15M164.41 487.05L167.49 491.15M170.36 487.05L173.44 491.15M176.31 487.05L179.39 491.15" class="hl"/>
<rect x="68.5" y="487.05" width="112.5" height="4.1" class="ol"/>
<line x1="181" y1="489.1" x2="181.5" y2="489.1" class="eb"/>
<line x1="181.5" y1="486.85" x2="181.5" y2="491.36" class="eb"/>
<text transform="translate(188.5,492.4) scale(1.02,1)" class="lt">a</text>
<line x1="65.5" y1="504.4" x2="68.5" y2="504.4" class="hx"/>
<text transform="translate(65.6,506.3) scale(1.1,1)" class="cat">30-40cm</text>
<rect x="68.5" y="498.25" width="111" height="4.1" class="gr"/>
<line x1="179.5" y1="500.3" x2="180" y2="500.3" class="eb"/>
<line x1="180" y1="498.04" x2="180" y2="502.55" class="eb"/>
<text transform="translate(185,502.4) scale(1.02,1)" class="lt">a</text>
<rect x="68.5" y="502.35" width="110.7" height="4.1" class="wh"/>
<line x1="179.2" y1="504.4" x2="179.7" y2="504.4" class="eb"/>
<line x1="179.7" y1="502.14" x2="179.7" y2="506.65" class="eb"/>
<text transform="translate(187.2,507) scale(1.02,1)" class="lt">a</text>
<rect x="68.5" y="506.45" width="112.5" height="4.1" fill="#fff"/>
<path d="M69.21 506.45L72.29 510.55M75.16 506.45L78.24 510.55M81.11 506.45L84.19 510.55M87.06 506.45L90.14 510.55M93.01 506.45L96.09 510.55M98.96 506.45L102.04 510.55M104.91 506.45L107.99 510.55M110.86 506.45L113.94 510.55M116.81 506.45L119.89 510.55M122.76 506.45L125.84 510.55M128.71 506.45L131.79 510.55M134.66 506.45L137.74 510.55M140.61 506.45L143.69 510.55M146.56 506.45L149.64 510.55M152.51 506.45L155.59 510.55M158.46 506.45L161.54 510.55M164.41 506.45L167.49 510.55M170.36 506.45L173.44 510.55M176.31 506.45L179.39 510.55" class="hl"/>
<rect x="68.5" y="506.45" width="112.5" height="4.1" class="ol"/>
<line x1="181" y1="508.5" x2="181.5" y2="508.5" class="eb"/>
<line x1="181.5" y1="506.25" x2="181.5" y2="510.75" class="eb"/>
<text transform="translate(190.3,511.1) scale(1.02,1)" class="lt">a</text>
<line x1="65.5" y1="523.8" x2="68.5" y2="523.8" class="hx"/>
<text transform="translate(65.6,525.7) scale(1.1,1)" class="cat">40-50cm</text>
<rect x="68.5" y="517.65" width="112.5" height="4.1" class="gr"/>
<line x1="181" y1="519.7" x2="183.3" y2="519.7" class="eb"/>
<line x1="183.3" y1="517.45" x2="183.3" y2="521.96" class="eb"/>
<text transform="translate(189.5,522.1) scale(1.02,1)" class="lt">a</text>
<rect x="68.5" y="521.75" width="114.8" height="4.1" class="wh"/>
<line x1="183.3" y1="523.8" x2="183.8" y2="523.8" class="eb"/>
<line x1="183.8" y1="521.54" x2="183.8" y2="526.05" class="eb"/>
<text transform="translate(192.2,526.5) scale(1.02,1)" class="lt">a</text>
<rect x="68.5" y="525.85" width="110" height="4.1" fill="#fff"/>
<path d="M69.21 525.85L72.29 529.95M75.16 525.85L78.24 529.95M81.11 525.85L84.19 529.95M87.06 525.85L90.14 529.95M93.01 525.85L96.09 529.95M98.96 525.85L102.04 529.95M104.91 525.85L107.99 529.95M110.86 525.85L113.94 529.95M116.81 525.85L119.89 529.95M122.76 525.85L125.84 529.95M128.71 525.85L131.79 529.95M134.66 525.85L137.74 529.95M140.61 525.85L143.69 529.95M146.56 525.85L149.64 529.95M152.51 525.85L155.59 529.95M158.46 525.85L161.54 529.95M164.41 525.85L167.49 529.95M170.36 525.85L173.44 529.95M176.31 525.85L178.5 528.77" class="hl"/>
<rect x="68.5" y="525.85" width="110" height="4.1" class="ol"/>
<line x1="178.5" y1="527.9" x2="180.4" y2="527.9" class="eb"/>
<line x1="180.4" y1="525.64" x2="180.4" y2="530.15" class="eb"/>
<text transform="translate(186.6,530.4) scale(1.02,1)" class="lt">a</text>
<text transform="translate(135,540.9) scale(1.044,1)" class="st" style="font-size:7.5px">Seedling stage</text>
<line x1="218.5" y1="426.6" x2="362.5" y2="426.6" class="hx"/>
<line x1="218.5" y1="544" x2="362.5" y2="544" class="hx2"/>
<line x1="221" y1="424.4" x2="221" y2="544" class="vx"/>
<line x1="362" y1="424.4" x2="362" y2="544" class="vx"/>
<line x1="235.5" y1="426.6" x2="235.5" y2="424.4" class="tx"/>
<line x1="249.5" y1="426.6" x2="249.5" y2="424.4" class="tx"/>
<line x1="263.5" y1="426.6" x2="263.5" y2="424.4" class="tx"/>
<line x1="277.5" y1="426.6" x2="277.5" y2="424.4" class="tx"/>
<line x1="291.5" y1="426.6" x2="291.5" y2="424.4" class="tx"/>
<line x1="305.5" y1="426.6" x2="305.5" y2="424.4" class="tx"/>
<line x1="319.5" y1="426.6" x2="319.5" y2="424.4" class="tx"/>
<line x1="333.5" y1="426.6" x2="333.5" y2="424.4" class="tx"/>
<line x1="347.5" y1="426.6" x2="347.5" y2="424.4" class="tx"/>
<line x1="218" y1="446.2" x2="221" y2="446.2" class="hx"/>
<rect x="221" y="440.05" width="97.6" height="4.1" class="gr"/>
<line x1="318.6" y1="442.1" x2="320.1" y2="442.1" class="eb"/>
<line x1="320.1" y1="439.85" x2="320.1" y2="444.36" class="eb"/>
<text transform="translate(326,443.4) scale(1.02,1)" class="lt">a</text>
<rect x="221" y="444.15" width="97.6" height="4.1" class="wh"/>
<line x1="318.6" y1="446.2" x2="321.1" y2="446.2" class="eb"/>
<line x1="321.1" y1="443.94" x2="321.1" y2="448.45" class="eb"/>
<text transform="translate(324.8,447.7) scale(1.02,1)" class="lt">a</text>
<rect x="221" y="448.25" width="97" height="4.1" fill="#fff"/>
<path d="M223.56 448.25L226.64 452.35M229.51 448.25L232.59 452.35M235.46 448.25L238.54 452.35M241.41 448.25L244.49 452.35M247.36 448.25L250.44 452.35M253.31 448.25L256.39 452.35M259.26 448.25L262.34 452.35M265.21 448.25L268.29 452.35M271.16 448.25L274.24 452.35M277.11 448.25L280.19 452.35M283.06 448.25L286.14 452.35M289.01 448.25L292.09 452.35M294.96 448.25L298.04 452.35M300.91 448.25L303.99 452.35M306.86 448.25L309.94 452.35M312.81 448.25L315.89 452.35" class="hl"/>
<rect x="221" y="448.25" width="97" height="4.1" class="ol"/>
<line x1="318" y1="450.3" x2="319.6" y2="450.3" class="eb"/>
<line x1="319.6" y1="448.04" x2="319.6" y2="452.55" class="eb"/>
<text transform="translate(325.4,451.8) scale(1.02,1)" class="lt">a</text>
<line x1="218" y1="465.6" x2="221" y2="465.6" class="hx"/>
<rect x="221" y="459.45" width="110" height="4.1" class="gr"/>
<line x1="331" y1="461.5" x2="333.5" y2="461.5" class="eb"/>
<line x1="333.5" y1="459.25" x2="333.5" y2="463.75" class="eb"/>
<text transform="translate(340.3,463.9) scale(1.02,1)" class="lt">a</text>
<rect x="221" y="463.55" width="103.8" height="4.1" class="wh"/>
<line x1="324.8" y1="465.6" x2="326" y2="465.6" class="eb"/>
<line x1="326" y1="463.34" x2="326" y2="467.85" class="eb"/>
<text transform="translate(332.9,468.2) scale(1.02,1)" class="lt">a</text>
<rect x="221" y="467.65" width="103.8" height="4.1" fill="#fff"/>
<path d="M223.56 467.65L226.64 471.75M229.51 467.65L232.59 471.75M235.46 467.65L238.54 471.75M241.41 467.65L244.49 471.75M247.36 467.65L250.44 471.75M253.31 467.65L256.39 471.75M259.26 467.65L262.34 471.75M265.21 467.65L268.29 471.75M271.16 467.65L274.24 471.75M277.11 467.65L280.19 471.75M283.06 467.65L286.14 471.75M289.01 467.65L292.09 471.75M294.96 467.65L298.04 471.75M300.91 467.65L303.99 471.75M306.86 467.65L309.94 471.75M312.81 467.65L315.89 471.75M318.76 467.65L321.84 471.75M324.71 467.65L324.8 467.77" class="hl"/>
<rect x="221" y="467.65" width="103.8" height="4.1" class="ol"/>
<line x1="324.8" y1="469.7" x2="326.7" y2="469.7" class="eb"/>
<line x1="326.7" y1="467.44" x2="326.7" y2="471.95" class="eb"/>
<text transform="translate(337.2,471.9) scale(1.02,1)" class="lt">a</text>
<line x1="218" y1="485" x2="221" y2="485" class="hx"/>
<rect x="221" y="478.85" width="110.3" height="4.1" class="gr"/>
<line x1="331.3" y1="480.9" x2="332.5" y2="480.9" class="eb"/>
<line x1="332.5" y1="478.64" x2="332.5" y2="483.15" class="eb"/>
<text transform="translate(342.1,481.7) scale(1.02,1)" class="lt">a</text>
<rect x="221" y="482.95" width="107.3" height="4.1" class="wh"/>
<line x1="328.3" y1="485" x2="328.8" y2="485" class="eb"/>
<line x1="328.8" y1="482.75" x2="328.8" y2="487.25" class="eb"/>
<text transform="translate(338.4,487.1) scale(1.02,1)" class="lt">ab</text>
<rect x="221" y="487.05" width="105.8" height="4.1" fill="#fff"/>
<path d="M223.56 487.05L226.64 491.15M229.51 487.05L232.59 491.15M235.46 487.05L238.54 491.15M241.41 487.05L244.49 491.15M247.36 487.05L250.44 491.15M253.31 487.05L256.39 491.15M259.26 487.05L262.34 491.15M265.21 487.05L268.29 491.15M271.16 487.05L274.24 491.15M277.11 487.05L280.19 491.15M283.06 487.05L286.14 491.15M289.01 487.05L292.09 491.15M294.96 487.05L298.04 491.15M300.91 487.05L303.99 491.15M306.86 487.05L309.94 491.15M312.81 487.05L315.89 491.15M318.76 487.05L321.84 491.15M324.71 487.05L326.8 489.83" class="hl"/>
<rect x="221" y="487.05" width="105.8" height="4.1" class="ol"/>
<line x1="326.8" y1="489.1" x2="327.3" y2="489.1" class="eb"/>
<line x1="327.3" y1="486.85" x2="327.3" y2="491.36" class="eb"/>
<text transform="translate(334.2,491.6) scale(1.02,1)" class="lt">b</text>
<line x1="218" y1="504.4" x2="221" y2="504.4" class="hx"/>
<rect x="221" y="498.25" width="108.8" height="4.1" class="gr"/>
<line x1="329.8" y1="500.3" x2="330.3" y2="500.3" class="eb"/>
<line x1="330.3" y1="498.04" x2="330.3" y2="502.55" class="eb"/>
<text transform="translate(341.4,501.4) scale(1.02,1)" class="lt">a</text>
<rect x="221" y="502.35" width="108.8" height="4.1" class="wh"/>
<line x1="329.8" y1="504.4" x2="330.3" y2="504.4" class="eb"/>
<line x1="330.3" y1="502.14" x2="330.3" y2="506.65" class="eb"/>
<text transform="translate(339.5,505.8) scale(1.02,1)" class="lt">a</text>
<rect x="221" y="506.45" width="106.5" height="4.1" fill="#fff"/>
<path d="M223.56 506.45L226.64 510.55M229.51 506.45L232.59 510.55M235.46 506.45L238.54 510.55M241.41 506.45L244.49 510.55M247.36 506.45L250.44 510.55M253.31 506.45L256.39 510.55M259.26 506.45L262.34 510.55M265.21 506.45L268.29 510.55M271.16 506.45L274.24 510.55M277.11 506.45L280.19 510.55M283.06 506.45L286.14 510.55M289.01 506.45L292.09 510.55M294.96 506.45L298.04 510.55M300.91 506.45L303.99 510.55M306.86 506.45L309.94 510.55M312.81 506.45L315.89 510.55M318.76 506.45L321.84 510.55M324.71 506.45L327.5 510.17" class="hl"/>
<rect x="221" y="506.45" width="106.5" height="4.1" class="ol"/>
<line x1="327.5" y1="508.5" x2="328" y2="508.5" class="eb"/>
<line x1="328" y1="506.25" x2="328" y2="510.75" class="eb"/>
<text transform="translate(338.4,510.3) scale(1.02,1)" class="lt">a</text>
<line x1="218" y1="523.8" x2="221" y2="523.8" class="hx"/>
<rect x="221" y="517.65" width="109.5" height="4.1" class="gr"/>
<line x1="330.5" y1="519.7" x2="332" y2="519.7" class="eb"/>
<line x1="332" y1="517.45" x2="332" y2="521.96" class="eb"/>
<text transform="translate(344.4,521.5) scale(1.02,1)" class="lt">a</text>
<rect x="221" y="521.75" width="109.5" height="4.1" class="wh"/>
<line x1="330.5" y1="523.8" x2="331" y2="523.8" class="eb"/>
<line x1="331" y1="521.54" x2="331" y2="526.05" class="eb"/>
<text transform="translate(340.2,526) scale(1.02,1)" class="lt">a</text>
<rect x="221" y="525.85" width="111" height="4.1" fill="#fff"/>
<path d="M223.56 525.85L226.64 529.95M229.51 525.85L232.59 529.95M235.46 525.85L238.54 529.95M241.41 525.85L244.49 529.95M247.36 525.85L250.44 529.95M253.31 525.85L256.39 529.95M259.26 525.85L262.34 529.95M265.21 525.85L268.29 529.95M271.16 525.85L274.24 529.95M277.11 525.85L280.19 529.95M283.06 525.85L286.14 529.95M289.01 525.85L292.09 529.95M294.96 525.85L298.04 529.95M300.91 525.85L303.99 529.95M306.86 525.85L309.94 529.95M312.81 525.85L315.89 529.95M318.76 525.85L321.84 529.95M324.71 525.85L327.79 529.95M330.66 525.85L332 527.63" class="hl"/>
<rect x="221" y="525.85" width="111" height="4.1" class="ol"/>
<line x1="332" y1="527.9" x2="332.5" y2="527.9" class="eb"/>
<line x1="332.5" y1="525.64" x2="332.5" y2="530.15" class="eb"/>
<text transform="translate(344.4,529.7) scale(1.02,1)" class="lt">a</text>
<text transform="translate(289.8,539.9) scale(1.024,1)" class="st" style="font-size:7.5px">Maturity stage</text>
<text transform="translate(69.5,36.2) scale(1.1,1)" class="tk" style="font-size:7.3px">0.0</text>
<text transform="translate(83.6,36.2) scale(1.1,1)" class="tk" style="font-size:7.3px">0.2</text>
<text transform="translate(97.7,36.2) scale(1.1,1)" class="tk" style="font-size:7.3px">0.4</text>
<text transform="translate(111.8,36.2) scale(1.1,1)" class="tk" style="font-size:7.3px">0.6</text>
<text transform="translate(125.9,36.2) scale(1.1,1)" class="tk" style="font-size:7.3px">0.8</text>
<text transform="translate(140,36.2) scale(1.1,1)" class="tk" style="font-size:7.3px">1.0</text>
<text transform="translate(154.1,36.2) scale(1.1,1)" class="tk" style="font-size:7.3px">1.2</text>
<text transform="translate(168.2,36.2) scale(1.1,1)" class="tk" style="font-size:7.3px">1.4</text>
<text transform="translate(182.3,36.2) scale(1.1,1)" class="tk" style="font-size:7.3px">1.6</text>
<text transform="translate(196.4,36.2) scale(1.1,1)" class="tk" style="font-size:7.3px">1.8</text>
<text transform="translate(210.5,36.2) scale(1.1,1)" class="tk" style="font-size:7.3px">2.0</text>
<text transform="translate(221.5,36.2) scale(1.1,1)" class="tk" style="font-size:7.3px">0.0</text>
<text transform="translate(235.6,36.2) scale(1.1,1)" class="tk" style="font-size:7.3px">0.2</text>
<text transform="translate(249.7,36.2) scale(1.1,1)" class="tk" style="font-size:7.3px">0.4</text>
<text transform="translate(263.8,36.2) scale(1.1,1)" class="tk" style="font-size:7.3px">0.6</text>
<text transform="translate(277.9,36.2) scale(1.1,1)" class="tk" style="font-size:7.3px">0.8</text>
<text transform="translate(292,36.2) scale(1.1,1)" class="tk" style="font-size:7.3px">1.0</text>
<text transform="translate(306.1,36.2) scale(1.1,1)" class="tk" style="font-size:7.3px">1.2</text>
<text transform="translate(320.2,36.2) scale(1.1,1)" class="tk" style="font-size:7.3px">1.4</text>
<text transform="translate(334.3,36.2) scale(1.1,1)" class="tk" style="font-size:7.3px">1.6</text>
<text transform="translate(348.4,36.2) scale(1.1,1)" class="tk" style="font-size:7.3px">1.8</text>
<text transform="translate(362.5,36.2) scale(1.1,1)" class="tk" style="font-size:7.3px">2.0</text>
<text transform="translate(69.5,298.7) scale(1.08,1)" class="tk" style="font-size:7.5px">0.0</text>
<text transform="translate(83.6,298.7) scale(1.08,1)" class="tk" style="font-size:7.5px">0.2</text>
<text transform="translate(97.7,298.7) scale(1.08,1)" class="tk" style="font-size:7.5px">0.4</text>
<text transform="translate(111.8,298.7) scale(1.08,1)" class="tk" style="font-size:7.5px">0.6</text>
<text transform="translate(125.9,298.7) scale(1.08,1)" class="tk" style="font-size:7.5px">0.8</text>
<text transform="translate(140,298.7) scale(1.08,1)" class="tk" style="font-size:7.5px">1.0</text>
<text transform="translate(154.1,298.7) scale(1.08,1)" class="tk" style="font-size:7.5px">1.2</text>
<text transform="translate(168.2,298.7) scale(1.08,1)" class="tk" style="font-size:7.5px">1.4</text>
<text transform="translate(182.3,298.7) scale(1.08,1)" class="tk" style="font-size:7.5px">1.6</text>
<text transform="translate(196.4,298.7) scale(1.08,1)" class="tk" style="font-size:7.5px">1.8</text>
<text transform="translate(210.5,298.7) scale(1.08,1)" class="tk" style="font-size:7.5px">2.0</text>
<text transform="translate(221.5,298.7) scale(1.08,1)" class="tk" style="font-size:7.5px">0.0</text>
<text transform="translate(235.6,298.7) scale(1.08,1)" class="tk" style="font-size:7.5px">0.2</text>
<text transform="translate(249.7,298.7) scale(1.08,1)" class="tk" style="font-size:7.5px">0.4</text>
<text transform="translate(263.8,298.7) scale(1.08,1)" class="tk" style="font-size:7.5px">0.6</text>
<text transform="translate(277.9,298.7) scale(1.08,1)" class="tk" style="font-size:7.5px">0.8</text>
<text transform="translate(292,298.7) scale(1.08,1)" class="tk" style="font-size:7.5px">1.0</text>
<text transform="translate(306.1,298.7) scale(1.08,1)" class="tk" style="font-size:7.5px">1.2</text>
<text transform="translate(320.2,298.7) scale(1.08,1)" class="tk" style="font-size:7.5px">1.4</text>
<text transform="translate(334.3,298.7) scale(1.08,1)" class="tk" style="font-size:7.5px">1.6</text>
<text transform="translate(348.4,298.7) scale(1.08,1)" class="tk" style="font-size:7.5px">1.8</text>
<text transform="translate(362.5,298.7) scale(1.08,1)" class="tk" style="font-size:7.5px">2.0</text>
</svg>
</body></html>
